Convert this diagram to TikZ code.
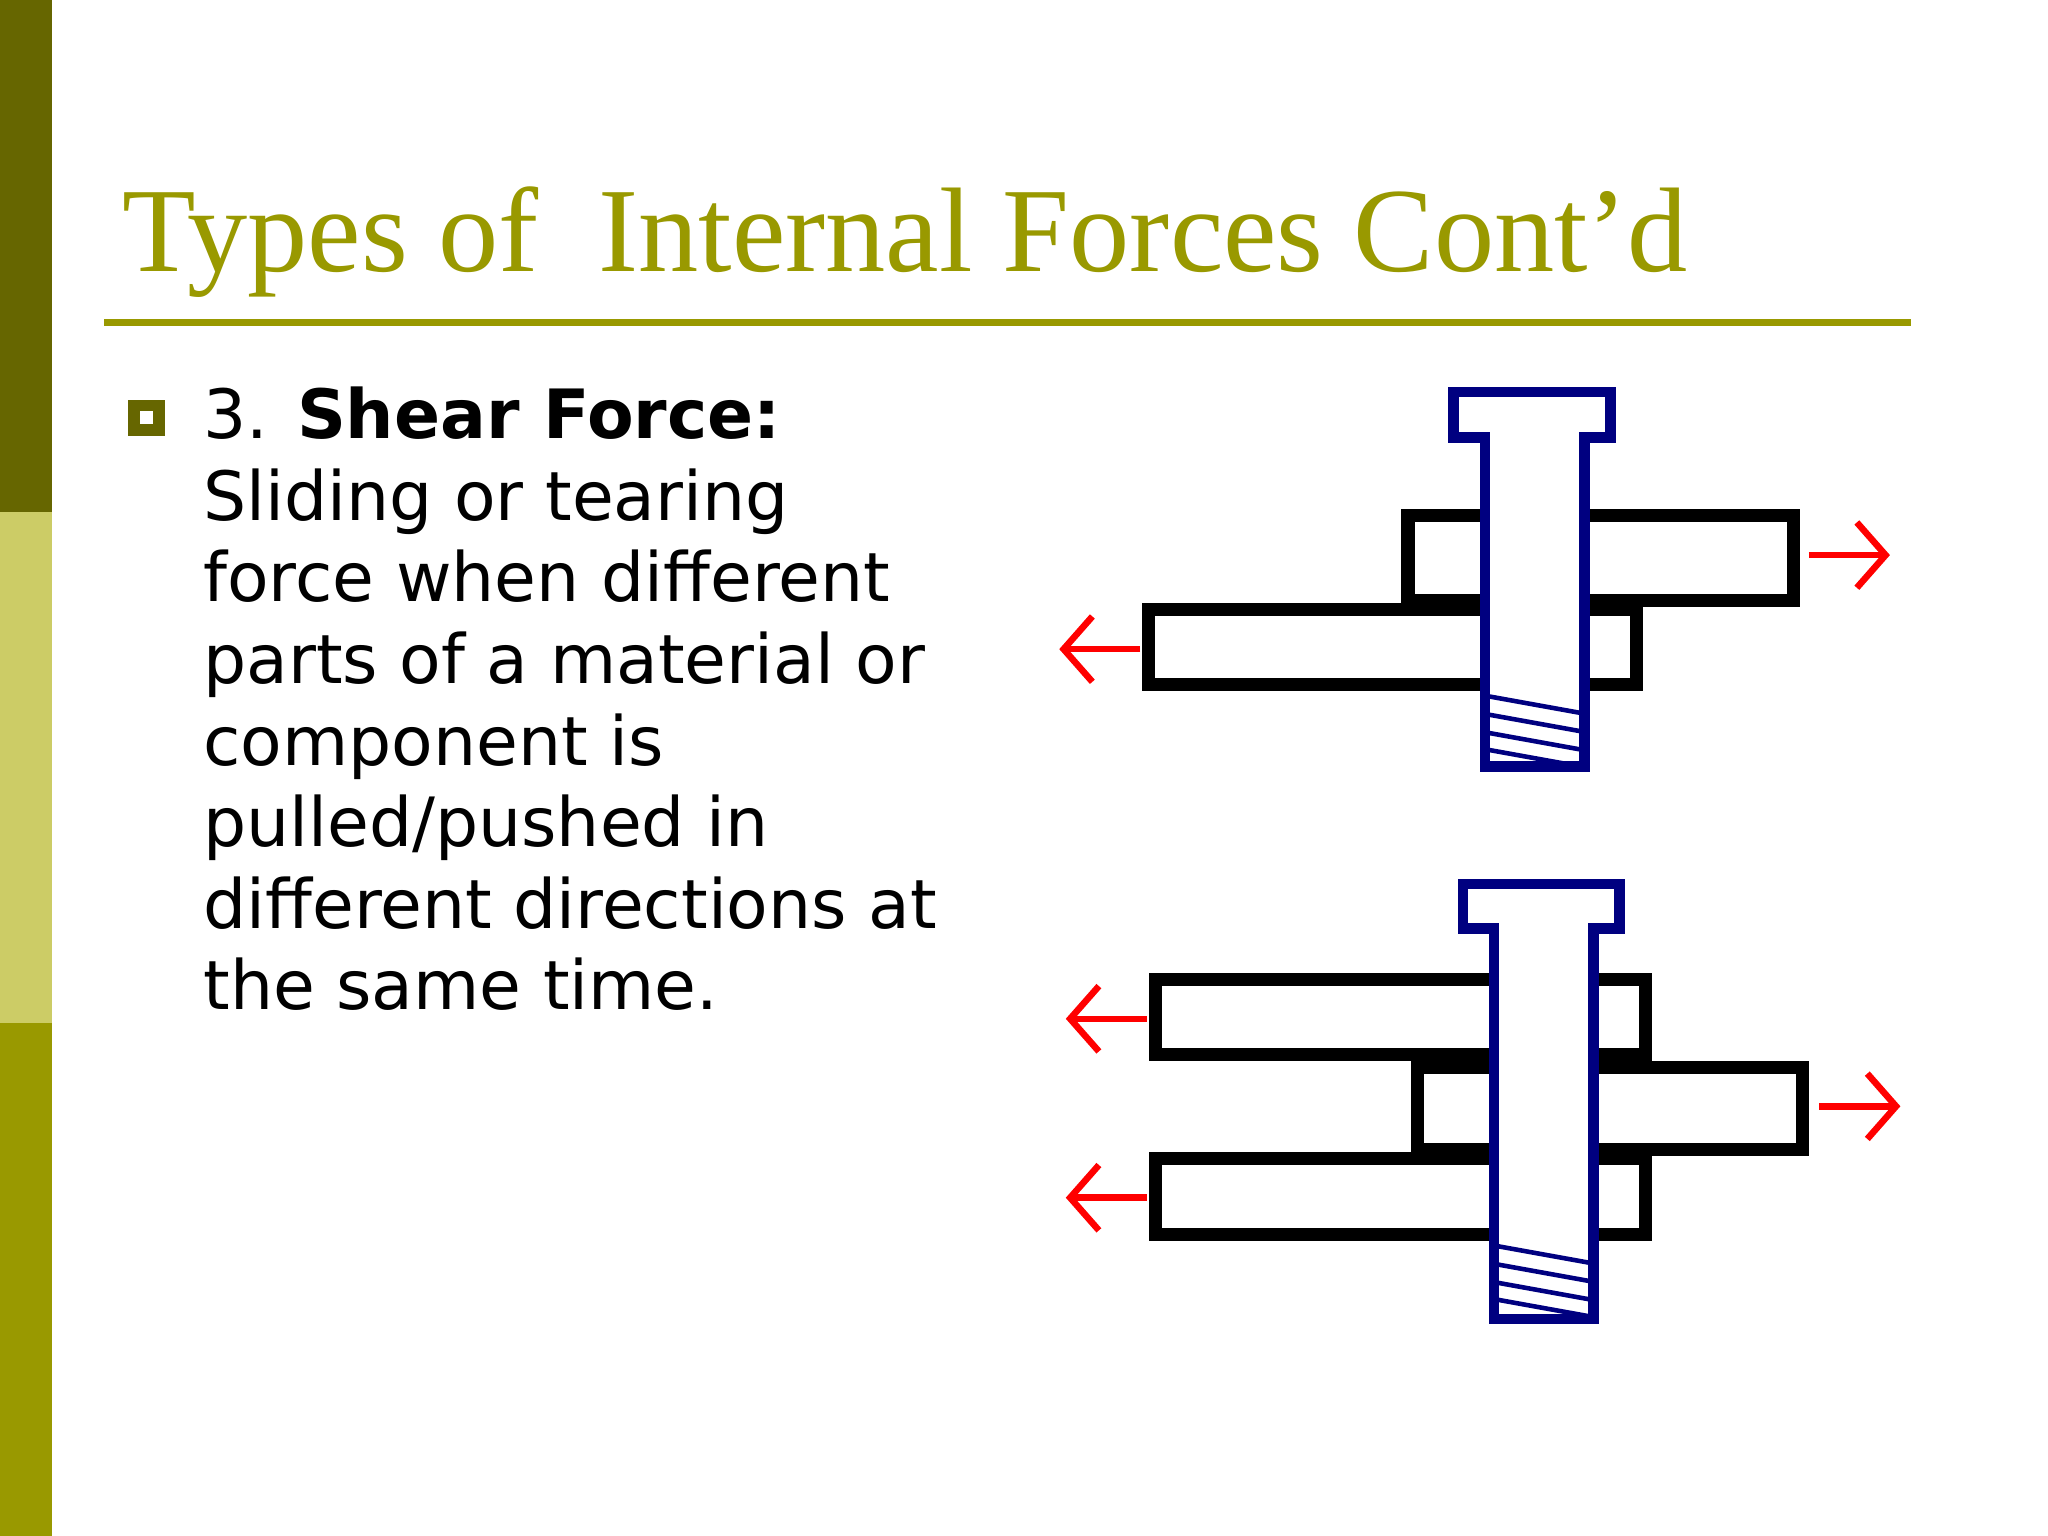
\documentclass[tikz,border=0pt]{standalone}
\usepackage{fontspec}
\setmainfont{Liberation Serif}
\newfontfamily\bodyfont{DejaVu Sans}
\usetikzlibrary{arrows.meta}
\definecolor{olA}{HTML}{666600}
\definecolor{olB}{HTML}{CCCC66}
\definecolor{olC}{HTML}{999900}
\definecolor{navyb}{HTML}{000080}
\tikzset{
 plate/.style={draw=black,line width=1mm,fill=white},
 bolt/.style={draw=navyb,line width=0.8mm,fill=white,line join=miter},
 thread/.style={draw=navyb,line width=0.35mm},
 force/.style={draw=red,line width=0.5mm,-{Straight Barb[length=2.2mm,width=5mm]}},
}
\begin{document}
\begin{tikzpicture}[x=0.01cm,y=-0.01cm]
\useasboundingbox (0,0) rectangle (1568,1176);
\fill[white] (0,0) rectangle (1568,1176);
\fill[olA] (0,0) rectangle (40,392);
\fill[olB] (0,392) rectangle (40,783);
\fill[olC] (0,783) rectangle (40,1176);
\node[anchor=base west,text=olC,font=\fontsize{26.2}{32}\selectfont,inner sep=0] (title) at (93,208) {Types of \ Internal Forces Cont’d};
\draw[olC,line width=0.5mm] (80,247) coordinate (l1) -- (1463,247) coordinate (l2);
\node[draw=olA,line width=0.9mm,minimum size=0.19cm,inner sep=0] (bul) at (112,320) {};
\node[anchor=base west,inner sep=0,align=left,font=\bodyfont\fontsize{14.8}{17.75}\selectfont] (body) at (155,773) {3. \textbf{Shear Force:}\\Sliding or tearing\\force when different\\parts of a material or\\component is\\pulled/pushed in\\different directions at\\the same time.};
% top figure
\draw[plate] (1078,395) rectangle (1373,460);
\draw[plate] (879,467) rectangle (1253,524);
\draw[bolt] (1113,300) -- (1233,300) -- (1233,335) -- (1213,335) -- (1213,587) -- (1137,587) -- (1137,335) -- (1113,335) -- cycle;
\foreach \y in {533,547,561,574} \draw[thread] (1139,\y) -- (1211,\y+13);
\coordinate (ra1) at (1385,425); \coordinate (ra2) at (1447,425);
\draw[force] (ra1) -- (ra2);
\coordinate (la1) at (873,497); \coordinate (la2) at (811,497);
\draw[force] (la1) -- (la2);
% bottom figure
\draw[plate] (885,750) rectangle (1260,807);
\draw[plate] (1085,817) rectangle (1380,880);
\draw[plate] (885,887) rectangle (1260,945);
\draw[bolt] (1120,677) -- (1240,677) -- (1240,711) -- (1220,711) -- (1220,1010) -- (1144,1010) -- (1144,711) -- (1120,711) -- cycle;
\foreach \y in {954,968,982,995} \draw[thread] (1146,\y) -- (1218,\y+13);
\coordinate (b1a) at (878,780); \coordinate (b1b) at (816,780);
\draw[force] (b1a) -- (b1b);
\coordinate (b2a) at (1393,847); \coordinate (b2b) at (1455,847);
\draw[force] (b2a) -- (b2b);
\coordinate (b3a) at (878,917); \coordinate (b3b) at (816,917);
\draw[force] (b3a) -- (b3b);
\end{tikzpicture}
\end{document}
